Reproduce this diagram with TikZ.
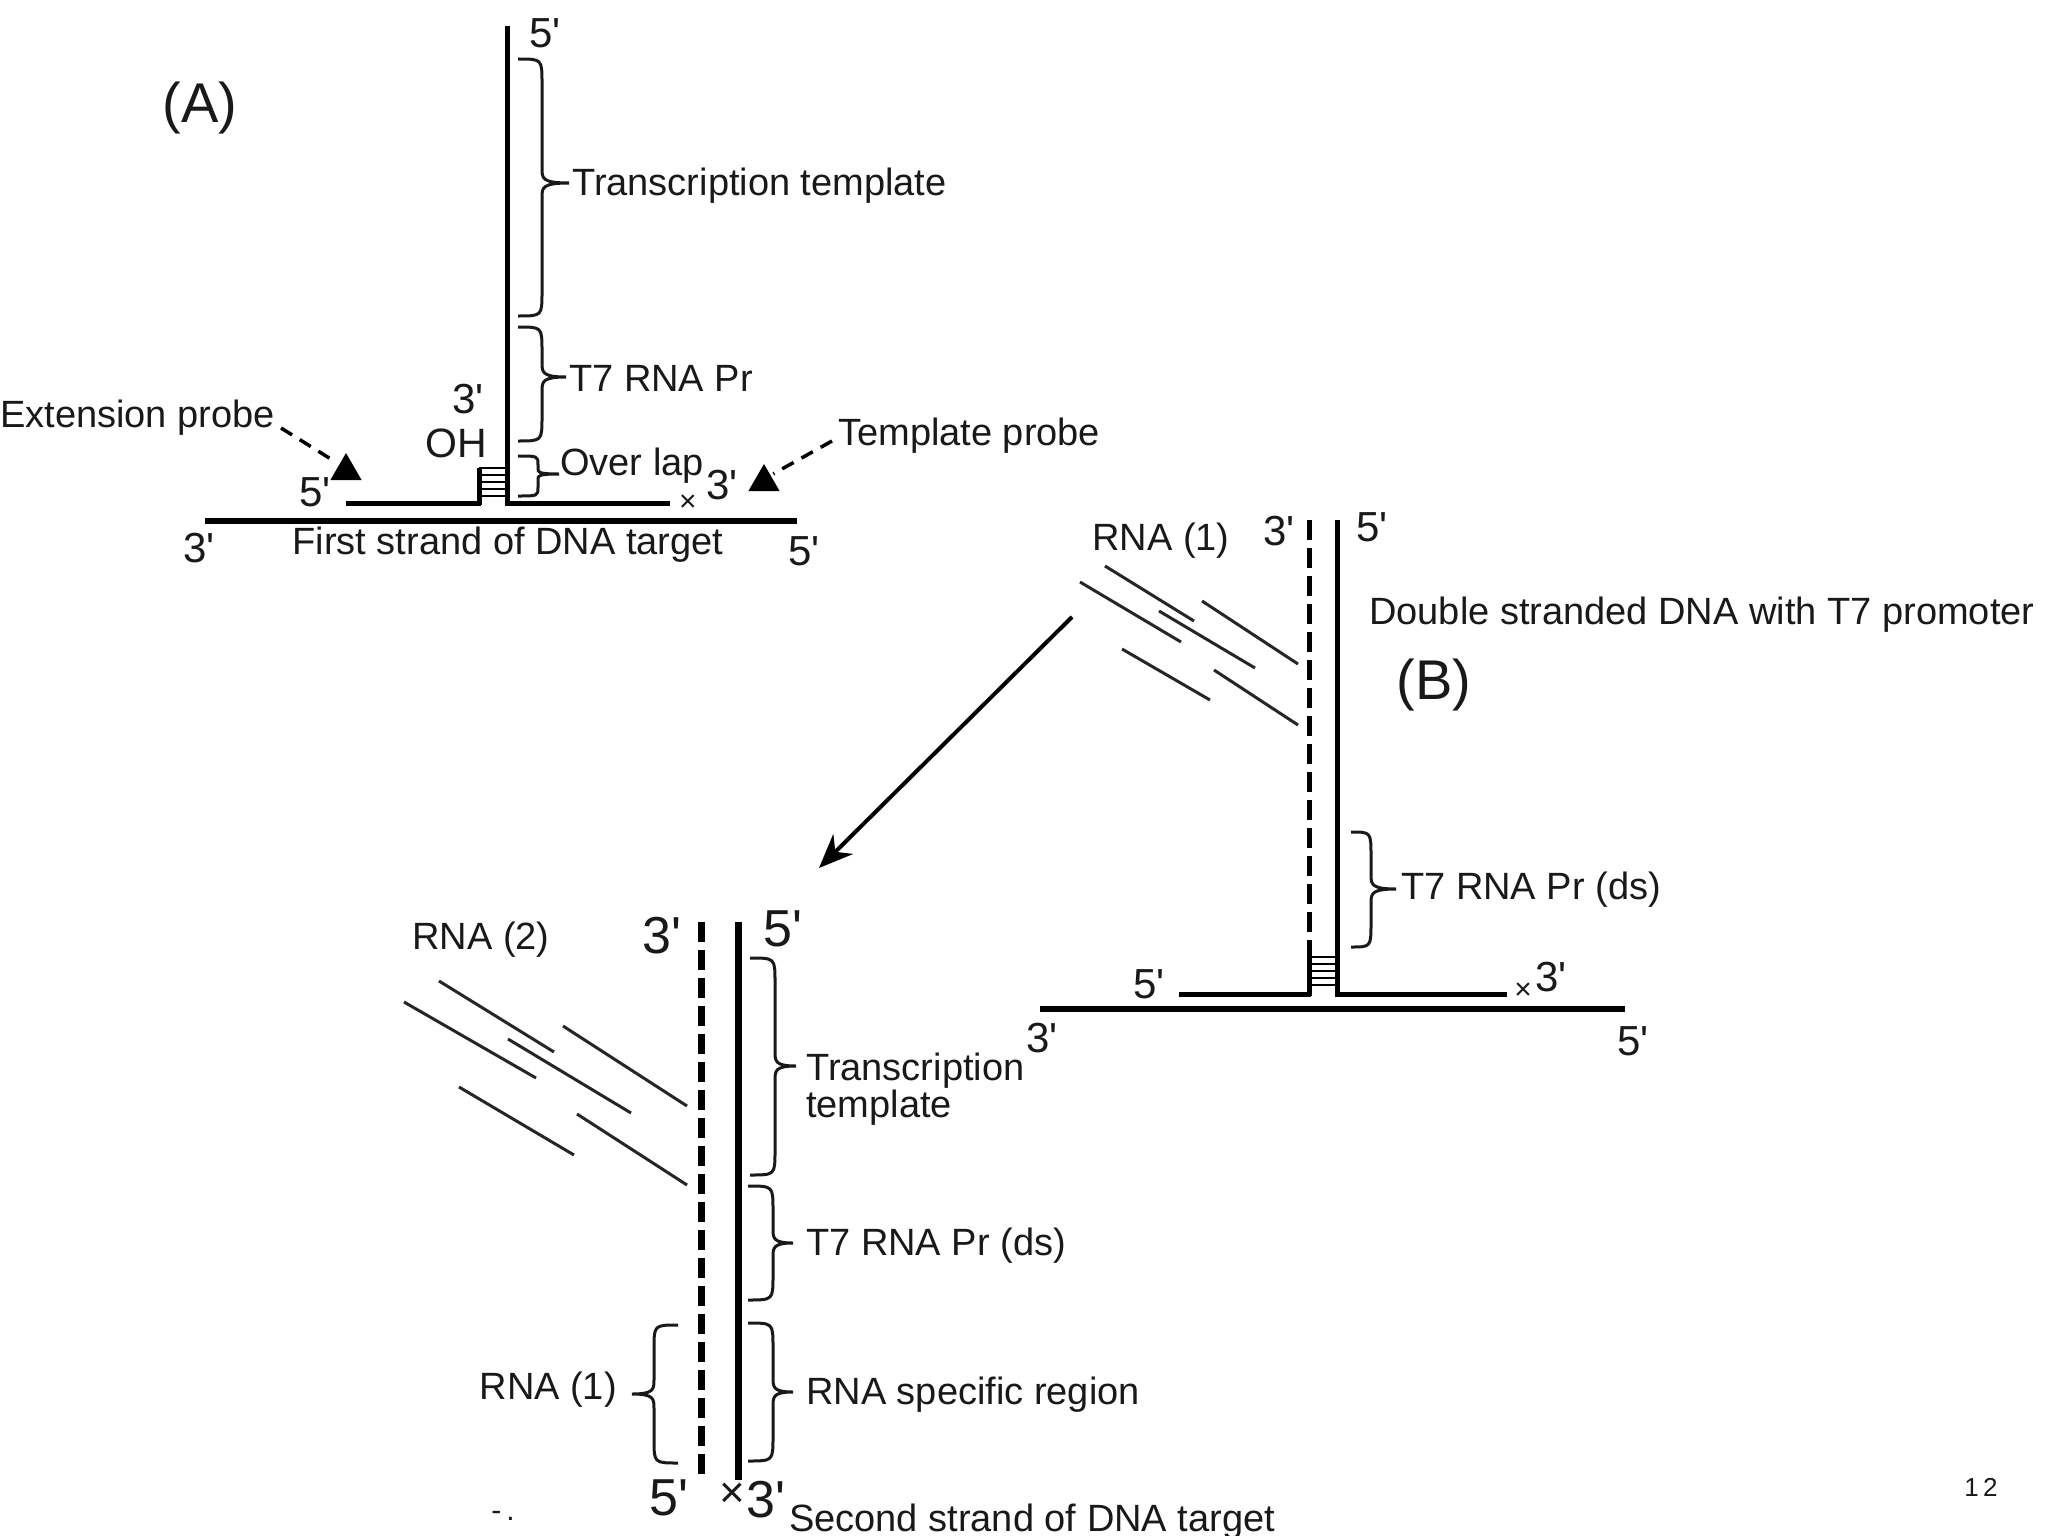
\documentclass[tikz,border=0pt]{standalone}
\usepackage{xcolor}
\usepackage{fontspec}
\setmainfont{Liberation Sans}
\newfontfamily\markfont{Liberation Sans}
\usepackage{tikz}
\usetikzlibrary{arrows.meta,shapes.geometric}

\tikzset{
  lbl/.style={inner sep=0pt, text=black!90, font=\fontsize{38}{37}\selectfont},
  lblr/.style={lbl, anchor=west},
  endmark/.style={lbl, font=\markfont\fontsize{42}{44}\selectfont},
  bigmark/.style={lbl, font=\markfont\fontsize{52}{54}\selectfont},
  panel/.style={lbl, font=\fontsize{56}{60}\selectfont},
  target/.style={line width=6pt},
  strand/.style={line width=5pt},
  thick strand/.style={line width=7pt},
  rna/.style={line width=3pt, black!85},
  bracket/.style={line width=3pt, black!90},
  pointer/.style={line width=3.5pt, dash pattern=on 13pt off 9pt},
  wedge/.style={regular polygon, regular polygon sides=3, fill=black, inner sep=0pt, minimum size=36pt},
  xmark/.style={lbl, font=\fontsize{30}{32}\selectfont}
}

% hook x, spine x, tip x, top y, tip y, bottom y
\newcommand{\cbrace}[6]{
  \pgfmathsetmacro{\rad}{min(24,(#5-#4)/2)}
  \draw[bracket] (#1,#4) .. controls (#2,#4) and (#2,#4) .. (#2,{#4+\rad})
    -- (#2,{#5-0.6*\rad}) .. controls (#2,{#5-0.2*\rad}) and (#2,#5) .. (#3,#5)
    .. controls (#2,#5) and (#2,{#5+0.2*\rad}) .. (#2,{#5+0.6*\rad})
    -- (#2,{#6-\rad}) .. controls (#2,#6) and (#2,#6) .. (#1,#6);
}

\begin{document}
\begin{tikzpicture}[x=1pt, y=-1pt]
  \useasboundingbox (0,0) rectangle (2048,1536);

  % Panel A
  \node[panel] (pa) at (200,108) {(A)};
  \draw[strand] (507,26) -- (507,505);
  \draw[strand] (479,468) -- (479,505);
  \foreach \y in {468,475,482,489,496} \draw[line width=2pt] (479,\y) -- (507,\y);
  \draw[strand] (346,503) -- (481,503);
  \draw[strand] (505,503) -- (670,503);
  \draw[target] (205,521) -- (797,521);
  \node[endmark] (pa5top) at (545,33) {5'};
  \node[endmark] (pa3oh) at (468,399) {3'};
  \node[lbl, font=\fontsize{41}{43}\selectfont] (paoh) at (456,443) {OH};
  \node[endmark] (pa5l) at (315,492) {5'};
  \node[xmark] (pax) at (688,503) {×};
  \node[endmark] (pa3r) at (722,485) {3'};
  \node[endmark] (pa3t) at (199,548) {3'};
  \node[endmark] (pa5t) at (804,551) {5'};
  \node[lbl] (pafirst) at (508,545) {First strand of DNA target};

  % Panel A braces
  \cbrace{518}{542}{569}{59}{183}{316}
  \node[lblr] (patrans) at (572,186) {Transcription template};
  \cbrace{518}{542}{566}{327}{377}{441}
  \node[lblr] (pat7) at (569,378) {T7 RNA Pr};
  \cbrace{518}{538}{559}{456}{474}{496}
  \node[lblr] (paover) at (560,466) {Over lap};

  % Probes
  \node[lblr] (extprobe) at (0,418) {Extension probe};
  \node[wedge] (extip) at (346,471) {};
  \draw[pointer, shorten >=3pt] (extprobe.east) ++(6,10) -- (extip.north west);
  \node[lblr] (tmplprobe) at (838,436) {Template probe};
  \node[wedge] (tmptip) at (764,482) {};
  \draw[pointer, shorten >=3pt] (tmplprobe.west) ++(-6,5) -- (tmptip.north east);

  % Panel B
  \node[lbl] (pbrna) at (1161,541) {RNA (1)};
  \node[endmark] (pb3) at (1279,531) {3'};
  \node[endmark] (pb5) at (1372,527) {5'};
  \node[lblr] (pbds) at (1369,615) {Double stranded DNA with T7 promoter};
  \node[panel] (pb) at (1434,685) {(B)};
  \draw[strand, dash pattern=on 20pt off 8pt] (1309,520) -- (1309,957);
  \draw[strand] (1337,520) -- (1337,996);
  \draw[strand] (1309,957) -- (1309,996);
  \foreach \y in {957,964,971,978,985} \draw[line width=2pt] (1309,\y) -- (1337,\y);
  \draw[strand] (1179,994) -- (1311,994);
  \draw[strand] (1335,994) -- (1507,994);
  \draw[target] (1040,1009) -- (1625,1009);
  \node[endmark] (pb5l) at (1149,984) {5'};
  \node[xmark] (pbx) at (1523,991) {×};
  \node[endmark] (pb3r) at (1551,977) {3'};
  \node[endmark] (pb3t) at (1042,1038) {3'};
  \node[endmark] (pb5t) at (1633,1041) {5'};
  \cbrace{1351}{1371}{1396}{832}{889}{947}
  \node[lblr] (pbt7) at (1401,890) {T7 RNA Pr (ds)};
  % RNA copies
  \draw[rna] (1105,566) -- (1194,621);
  \draw[rna] (1080,582) -- (1181,642);
  \draw[rna] (1159,611) -- (1255,668);
  \draw[rna] (1202,601) -- (1298,664);
  \draw[rna] (1122,649) -- (1210,700);
  \draw[rna] (1214,670) -- (1298,725);

  % Arrow between panels
  \coordinate (arrfrom) at (1072,617);
  \coordinate (arrto) at (819,868);
  \draw[line width=4pt, -{Stealth[length=34pt, width=28pt]}] (arrfrom) -- (arrto);

  % Panel C
  \node[lbl] (pcrna) at (481,940) {RNA (2)};
  \node[bigmark] (pc3) at (662,936) {3'};
  \node[bigmark] (pc5) at (783,929) {5'};
  \draw[thick strand, dash pattern=on 20pt off 8pt] (701,922) -- (701,1476);
  \draw[thick strand] (738,922) -- (738,1480);
  \draw[rna] (439,981) -- (554,1052);
  \draw[rna] (404,1002) -- (536,1078);
  \draw[rna] (508,1039) -- (631,1113);
  \draw[rna] (563,1026) -- (687,1106);
  \draw[rna] (459,1087) -- (574,1155);
  \draw[rna] (577,1114) -- (687,1185);
  \cbrace{750}{775}{796}{958}{1066}{1175}
  \node[lblr, align=left] (pctrans) at (806,1089) {Transcription\\template};
  \cbrace{748}{773}{793}{1186}{1243}{1300}
  \node[lblr] (pct7) at (806,1246) {T7 RNA Pr (ds)};
  \cbrace{748}{773}{793}{1323}{1392}{1461}
  \node[lblr] (pcspec) at (806,1395) {RNA specific region};
  \cbrace{678}{654}{632}{1325}{1394}{1463}
  \node[lbl, anchor=east] (pcrna1) at (617,1390) {RNA (1)};
  \node[bigmark] (pc5b) at (669,1498) {5'};
  \node[xmark, font=\fontsize{44}{46}\selectfont] (pcx) at (732,1495) {×};
  \node[bigmark] (pc3b) at (766,1500) {3'};
  \node[lblr] (pcsecond) at (789,1522) {Second strand of DNA target};
  \node[lbl, font=\fontsize{30}{32}\selectfont] (pcspot) at (503,1516) {-\,.};

  % Page number
  \node[lbl, font=\fontsize{26}{28}\selectfont] (pageno) at (1981,1487) {1\,2};
\end{tikzpicture}
\end{document}
